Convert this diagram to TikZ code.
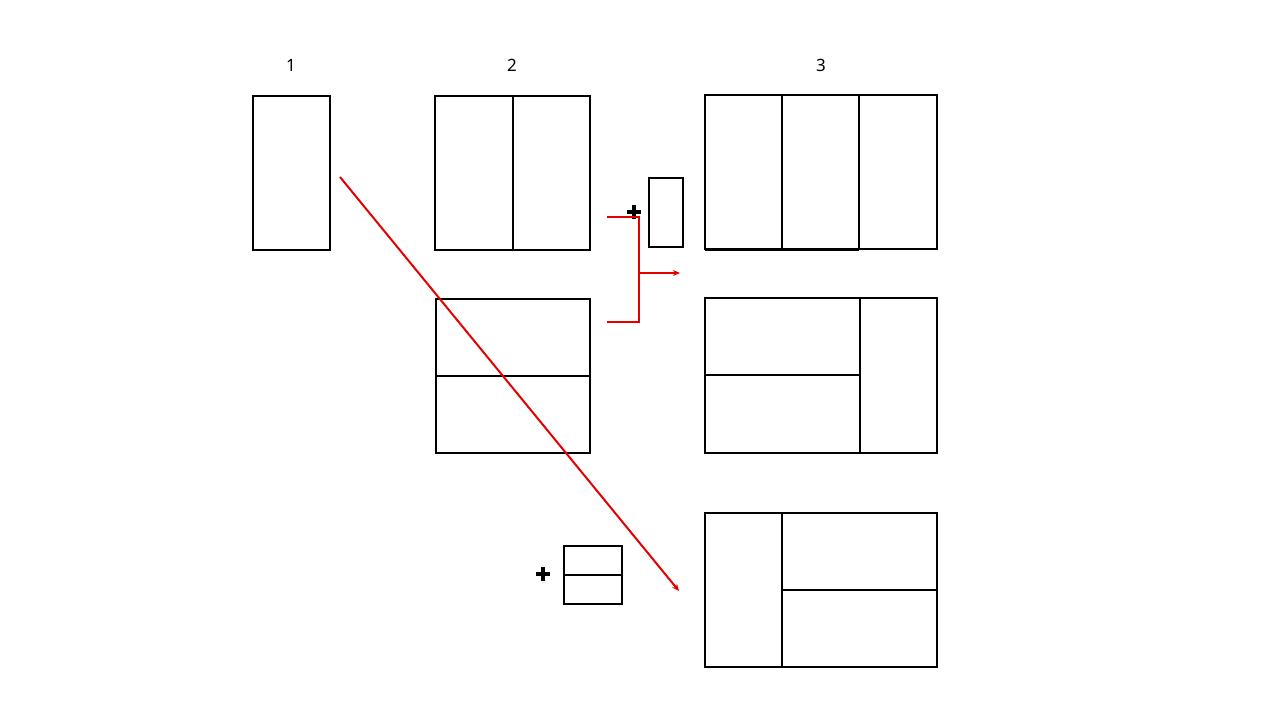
\documentclass[tikz,border=0pt]{standalone}
\usepackage{fontspec}
\setmainfont{Noto Sans}
\usetikzlibrary{arrows.meta}
\begin{document}
\begin{tikzpicture}[x=1pt,y=-1pt,
  bx/.style={draw=black,line width=2.5pt},
  rl/.style={draw=red!90!black,line width=2pt},
  ra/.style={rl,-{Stealth[length=7pt,width=6pt]}},
  pl/.style={draw=black,line width=4.5pt},
  lab/.style={font=\fontsize{17}{20}\selectfont}]
\useasboundingbox (0,0) rectangle (1280,720);
\node[lab] (l1) at (291,65) {1};
\node[lab] (l2) at (512,65) {2};
\node[lab] (l3) at (821,65) {3};
% box 1
\draw[bx] (253,96) rectangle (330,250);
% box 2 top
\draw[bx] (435,96) rectangle (590,250) (513,96) -- (513,250);
% box 2 bottom
\draw[bx] (436,299) rectangle (590,453) (436,376) -- (590,376);
% box 3 top
\draw[bx] (705,95) rectangle (937,249) (782,95) -- (782,250) (859,95) -- (859,250) (705,250) -- (859,250);
% box 3 mid
\draw[bx] (705,298) rectangle (937,453) (860,298) -- (860,453) (705,375) -- (860,375);
% box 3 bottom
\draw[bx] (705,513) rectangle (937,667) (782,513) -- (782,667) (782,590) -- (937,590);
% small boxes
\draw[bx] (649,178) rectangle (683,247);
\draw[bx] (564,546) rectangle (622,604) (564,575) -- (622,575);
% plus signs
\draw[pl] (627,212) -- (641,212) (634,205) -- (634,219);
\draw[pl] (536,574) -- (550,574) (543,567) -- (543,581);
% red connectors
\coordinate (a1) at (607,217);
\coordinate (a2) at (639,217);
\coordinate (b1) at (607,322);
\coordinate (b2) at (639,322);
\coordinate (m) at (639,273);
\coordinate (mt) at (680,273);
\draw[rl] (a1) -- (a2) -- (b2) -- (b1);
\draw[ra] (m) -- (mt);
\coordinate (d1) at (340,177);
\coordinate (d2) at (679,591);
\draw[ra] (d1) -- (d2);
\end{tikzpicture}
\end{document}
